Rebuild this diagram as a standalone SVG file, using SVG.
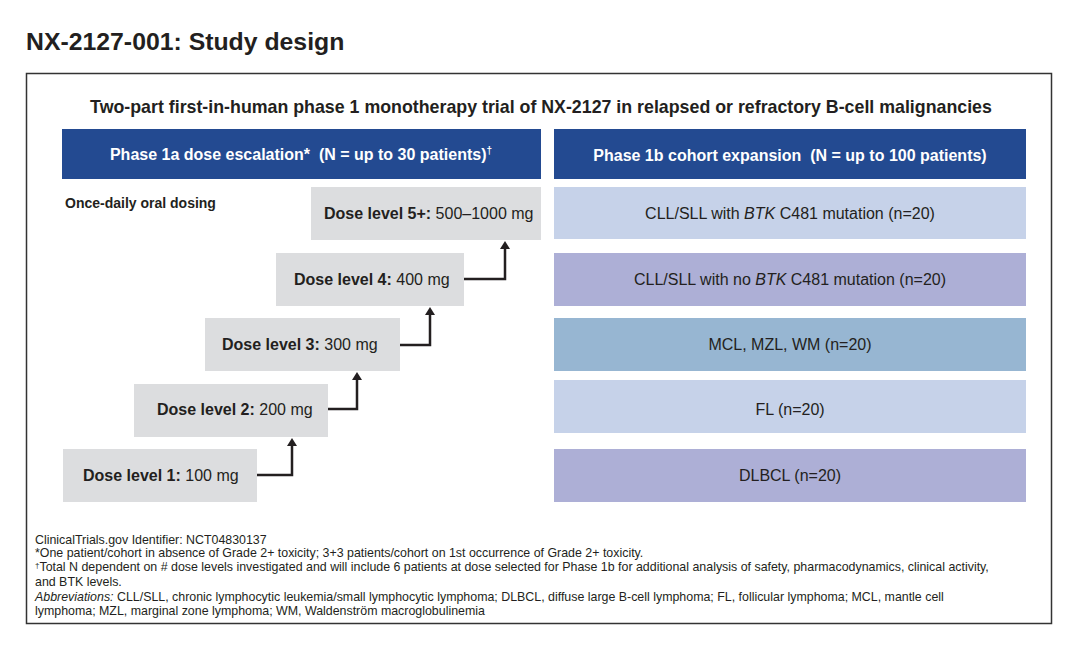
<svg xmlns="http://www.w3.org/2000/svg" width="1075" height="649" viewBox="0 0 1075 649">
<style>
text{font-family:"Liberation Sans",Arial,sans-serif;fill:#231f20}
.b{font-weight:bold}
.hd{fill:#234a91}
.hdt{fill:#ffffff;font-weight:bold;font-size:16px}
.dose{fill:#dcdddf}
.dt{font-size:16px}
.c1{fill:#c6d2e9}
.c2{fill:#adafd6}
.c3{fill:#97b6d2}
.ct{font-size:16px}
.fn{font-size:12.4px}
.conn{fill:none;stroke:#231f20;stroke-width:2.5}
</style>
<defs>
<marker id="ah" viewBox="0 0 8 10" refX="2" refY="5" markerWidth="8" markerHeight="10" markerUnits="userSpaceOnUse" orient="auto">
<path d="M0,0 L8,5 L0,10 z" fill="#231f20"/>
</marker>
</defs>
<rect width="1075" height="649" fill="#ffffff"/>
<text x="26" y="50" class="b" font-size="24.8">NX-2127-001: Study design</text>
<rect x="26.5" y="73.5" width="1025" height="550" fill="none" stroke="#333333" stroke-width="1.5"/>
<text x="541" y="113" class="b" font-size="17.8" text-anchor="middle">Two-part first-in-human phase 1 monotherapy trial of NX-2127 in relapsed or refractory B-cell malignancies</text>

<g id="header-1a">
<rect class="hd" x="62" y="129" width="479" height="50"/>
<text class="hdt" x="301" y="160" text-anchor="middle" xml:space="preserve">Phase 1a dose escalation*  (N = up to 30 patients)<tspan font-size="10" dy="-6">†</tspan></text>
</g>
<g id="header-1b">
<rect class="hd" x="554" y="129" width="472" height="50"/>
<text class="hdt" x="790" y="161" text-anchor="middle" xml:space="preserve">Phase 1b cohort expansion  (N = up to 100 patients)</text>
</g>

<text x="65" y="208" class="b" font-size="14">Once-daily oral dosing</text>

<g id="dose5">
<rect class="dose" x="311" y="187" width="230" height="53"/>
<text class="dt" x="324" y="219"><tspan class="b">Dose level 5+:</tspan> 500–1000 mg</text>
</g>
<g id="dose4">
<rect class="dose" x="276" y="253" width="188" height="53"/>
<text class="dt" x="294" y="285"><tspan class="b">Dose level 4:</tspan> 400 mg</text>
</g>
<g id="dose3">
<rect class="dose" x="205" y="318" width="195" height="53"/>
<text class="dt" x="222" y="350"><tspan class="b">Dose level 3:</tspan> 300 mg</text>
</g>
<g id="dose2">
<rect class="dose" x="134" y="384" width="194" height="53"/>
<text class="dt" x="157" y="415"><tspan class="b">Dose level 2:</tspan> 200 mg</text>
</g>
<g id="dose1">
<rect class="dose" x="63" y="449" width="194" height="53"/>
<text class="dt" x="83" y="481"><tspan class="b">Dose level 1:</tspan> 100 mg</text>
</g>

<g id="cohort1">
<rect class="c1" x="554" y="187" width="472" height="52"/>
<text class="ct" x="790" y="219" text-anchor="middle">CLL/SLL with <tspan font-style="italic">BTK</tspan> C481 mutation (n=20)</text>
</g>
<g id="cohort2">
<rect class="c2" x="554" y="253" width="472" height="53"/>
<text class="ct" x="790" y="285" text-anchor="middle">CLL/SLL with no <tspan font-style="italic">BTK</tspan> C481 mutation (n=20)</text>
</g>
<g id="cohort3">
<rect class="c3" x="554" y="318" width="472" height="53"/>
<text class="ct" x="790" y="350" text-anchor="middle">MCL, MZL, WM (n=20)</text>
</g>
<g id="cohort4">
<rect class="c1" x="554" y="380" width="472" height="53"/>
<text class="ct" x="790" y="415" text-anchor="middle">FL (n=20)</text>
</g>
<g id="cohort5">
<rect class="c2" x="554" y="449" width="472" height="53"/>
<text class="ct" x="790" y="481" text-anchor="middle">DLBCL (n=20)</text>
</g>

<g id="connectors">
<path class="conn" d="M257,475 H292 V444" marker-end="url(#ah)"/>
<path class="conn" d="M328,409 H357 V378" marker-end="url(#ah)"/>
<path class="conn" d="M400,345 H430 V313" marker-end="url(#ah)"/>
<path class="conn" d="M464,279 H505 V247" marker-end="url(#ah)"/>
</g>

<g id="footnotes">
<text class="fn" x="35" y="544">ClinicalTrials.gov Identifier: NCT04830137</text>
<text class="fn" x="35" y="557">*One patient/cohort in absence of Grade 2+ toxicity; 3+3 patients/cohort on 1st occurrence of Grade 2+ toxicity.</text>
<text class="fn" x="35" y="571"><tspan font-size="8" dy="-3">†</tspan><tspan dy="3">Total N dependent on # dose levels investigated and will include 6 patients at dose selected for Phase 1b for additional analysis of safety, pharmacodynamics, clinical activity,</tspan></text>
<text class="fn" x="35" y="586">and BTK levels.</text>
<text class="fn" x="35" y="601"><tspan font-style="italic">Abbreviations:</tspan> CLL/SLL, chronic lymphocytic leukemia/small lymphocytic lymphoma; DLBCL, diffuse large B-cell lymphoma; FL, follicular lymphoma; MCL, mantle cell</text>
<text class="fn" x="35" y="615">lymphoma; MZL, marginal zone lymphoma; WM, Waldenström macroglobulinemia</text>
</g>
</svg>
